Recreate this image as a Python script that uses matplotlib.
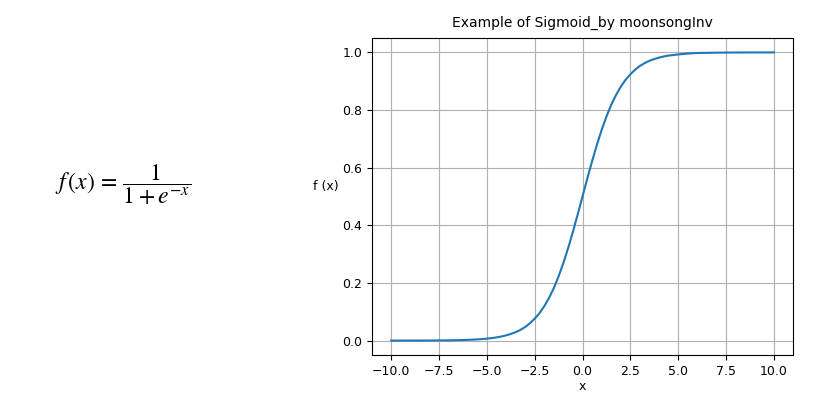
import matplotlib
matplotlib.use("Agg")
import matplotlib.pyplot as plt

# values (finer steps where it bends)
x_vals = [-10.0, -9.5, -9.0, -8.5, -8.0, -7.5, -7.0, -6.5, -6.0, -5.5,
          -5.0, -4.75, -4.5, -4.25, -4.0, -3.75, -3.5, -3.25, -3.0, -2.75,
          -2.5, -2.25, -2.0, -1.75, -1.5, -1.25, -1.0, -0.75, -0.5, -0.25,
          0.0, 0.25, 0.5, 0.75, 1.0, 1.25, 1.5, 1.75, 2.0, 2.25,
          2.5, 2.75, 3.0, 3.25, 3.5, 3.75, 4.0, 4.25, 4.5, 4.75,
          5.0, 5.5, 6.0, 6.5, 7.0, 7.5, 8.0, 8.5, 9.0, 9.5, 10.0]
y_vals = [0.0000, 0.0001, 0.0001, 0.0002, 0.0003, 0.0006, 0.0009, 0.0015, 0.0025, 0.0041,
          0.0067, 0.0086, 0.011, 0.014, 0.018, 0.023, 0.029, 0.037, 0.047, 0.060,
          0.076, 0.095, 0.119, 0.148, 0.182, 0.223, 0.269, 0.321, 0.378, 0.438,
          0.500, 0.562, 0.622, 0.679, 0.731, 0.777, 0.818, 0.852, 0.881, 0.905,
          0.924, 0.940, 0.953, 0.963, 0.971, 0.977, 0.982, 0.986, 0.989, 0.991,
          0.993, 0.996, 0.998, 0.9985, 0.9991, 0.9994, 0.9997, 0.9998, 0.9999, 0.9999, 1.0]

plt.rcParams["mathtext.fontset"] = "stix"

fig = plt.figure(figsize=(8.31, 3.93), dpi=100)
ax = fig.add_axes([372 / 831, 1 - 355 / 393, 421 / 831, 317 / 393])

ax.plot(x_vals, y_vals, color="#1f77b4", lw=1.5)
ax.set_title("Example of Sigmoid_by moonsongInv", fontsize=10, pad=8)
ax.set_xlabel("x", fontsize=9, labelpad=2)
ax.set_ylabel("f (x)", fontsize=9, rotation=0, labelpad=10, va="center")
ax.yaxis.set_label_coords(-0.11, 0.53)
ax.set_xticks([-10.0, -7.5, -5.0, -2.5, 0.0, 2.5, 5.0, 7.5, 10.0])
ax.set_yticks([0.0, 0.2, 0.4, 0.6, 0.8, 1.0])
ax.tick_params(labelsize=9)
ax.grid(True)

fig.text(55 / 831, 1 - 185 / 393, r"$f\,(x)\,=\,\dfrac{1}{1+e^{-x}}$",
         fontsize=17, va="center", ha="left")

fig.savefig("out.png", dpi=100)
